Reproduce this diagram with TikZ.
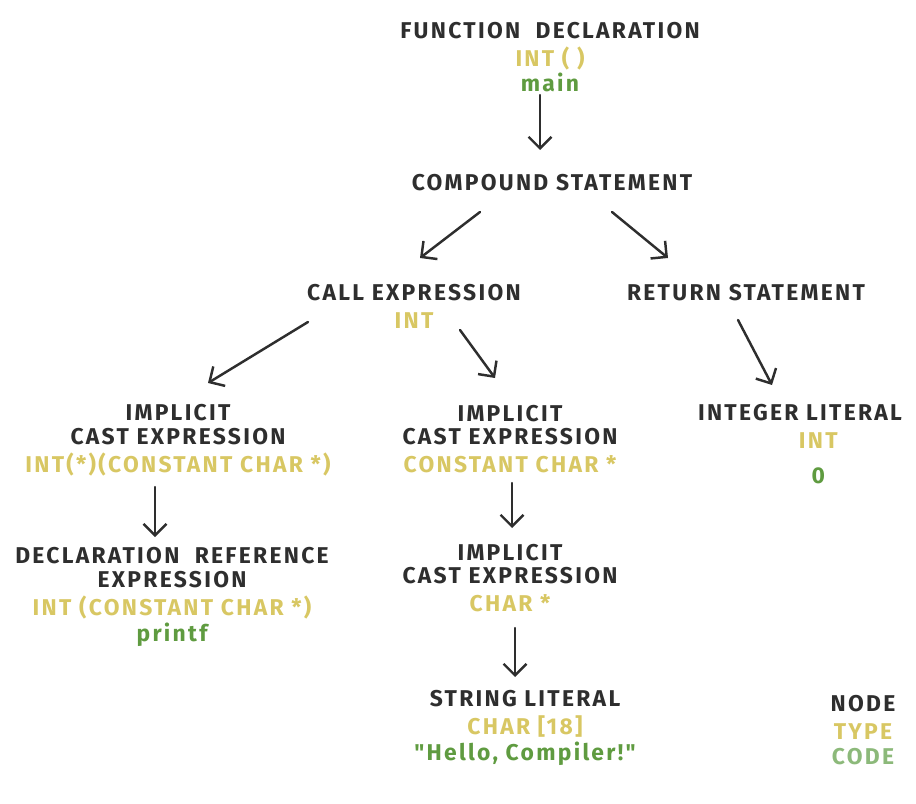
\documentclass[tikz,border=0pt]{standalone}
\usepackage{fontspec}
\setmainfont{Fira Sans}[LetterSpace=10, Ligatures=TeXOff]
\usetikzlibrary{arrows.meta}
\definecolor{ink}{HTML}{2E2E2E}
\definecolor{typ}{HTML}{D8C763}
\definecolor{cod}{HTML}{5F9B40}
\definecolor{codlight}{HTML}{8CB97A}
\newcommand{\ty}[1]{\textcolor{typ}{#1}}
\newcommand{\cd}[1]{\textcolor{cod}{#1}}
\begin{document}
\begin{tikzpicture}[x=0.02cm, y=-0.02cm,
  ast/.style={align=center, inner sep=0pt, text=ink, font=\bfseries\fontsize{13}{13.6}\selectfont},
  arr/.style={-{Straight Barb[length=6.5pt,width=13pt]}, line width=1.4pt, draw=ink, line cap=round}]
\useasboundingbox (0,0) rectangle (916,804);
\node [ast] (fdecl) at (550,57) {FUNCTION\ \ DECLARATION\\[2.3pt] \ty{INT ( )}\\[1pt] \cd{main}};
\node [ast] (cmpd) at (552,183) {COMPOUND STATEMENT};
\node [ast] (call) at (414,306) {CALL EXPRESSION\\[2.3pt] \ty{INT}};
\node [ast] (ret) at (746,293) {RETURN STATEMENT};
\node [ast] (icast1) at (178,440) {IMPLICIT\\ CAST EXPRESSION\\[2.3pt] \ty{INT(*)(CONSTANT CHAR *)}};
\node [ast] (dref) at (172,597) {DECLARATION\ \ REFERENCE\\ EXPRESSION\\[2.3pt] \ty{INT (CONSTANT CHAR *)}\\[1pt] \cd{printf}};
\node [ast] (icast2) at (510,439) {IMPLICIT\\ CAST EXPRESSION\\[2.3pt] \ty{CONSTANT CHAR *}};
\node [ast] (icast3) at (510,578) {IMPLICIT\\ CAST EXPRESSION\\[2.3pt] \ty{CHAR *}};
\node [ast] (strlit) at (525,728) {STRING LITERAL\\[2.3pt] \ty{CHAR [18]}\\[1pt] \cd{"Hello, Compiler!"}};
\node [ast] (intlit) at (800,444) {INTEGER LITERAL\\[2.3pt] \ty{\hspace*{1.6em}INT}\\[6pt] \cd{\hspace*{1.6em}0}};
% legend
\node [ast] (legend) at (863,730) {NODE\\[2.3pt] \ty{TYPE}\\[1pt] \textcolor{codlight}{CODE}};
% edges
\draw [arr] ([shift={(-10,38)}]fdecl.center) -- ([shift={(-12,-33)}]cmpd.center);
\draw [arr] ([shift={(-72,29)}]cmpd.center) -- ([shift={(6,-48)}]call.center);
\draw [arr] ([shift={(60,29)}]cmpd.center) -- ([shift={(-78,-35)}]ret.center);
\draw [arr] ([shift={(-106,16)}]call.center) -- ([shift={(30,-57)}]icast1.center);
\draw [arr] ([shift={(46,24)}]call.center) -- ([shift={(-15,-61)}]icast2.center);
\draw [arr] ([shift={(-8,27)}]ret.center) -- ([shift={(-28,-59)}]intlit.center);
\draw [arr] ([shift={(-23,47)}]icast1.center) -- ([shift={(-17,-60)}]dref.center);
\draw [arr] ([shift={(2,44)}]icast2.center) -- ([shift={(2,-50)}]icast3.center);
\draw [arr] ([shift={(5,50)}]icast3.center) -- ([shift={(-10,-51)}]strlit.center);
\end{tikzpicture}
\end{document}
